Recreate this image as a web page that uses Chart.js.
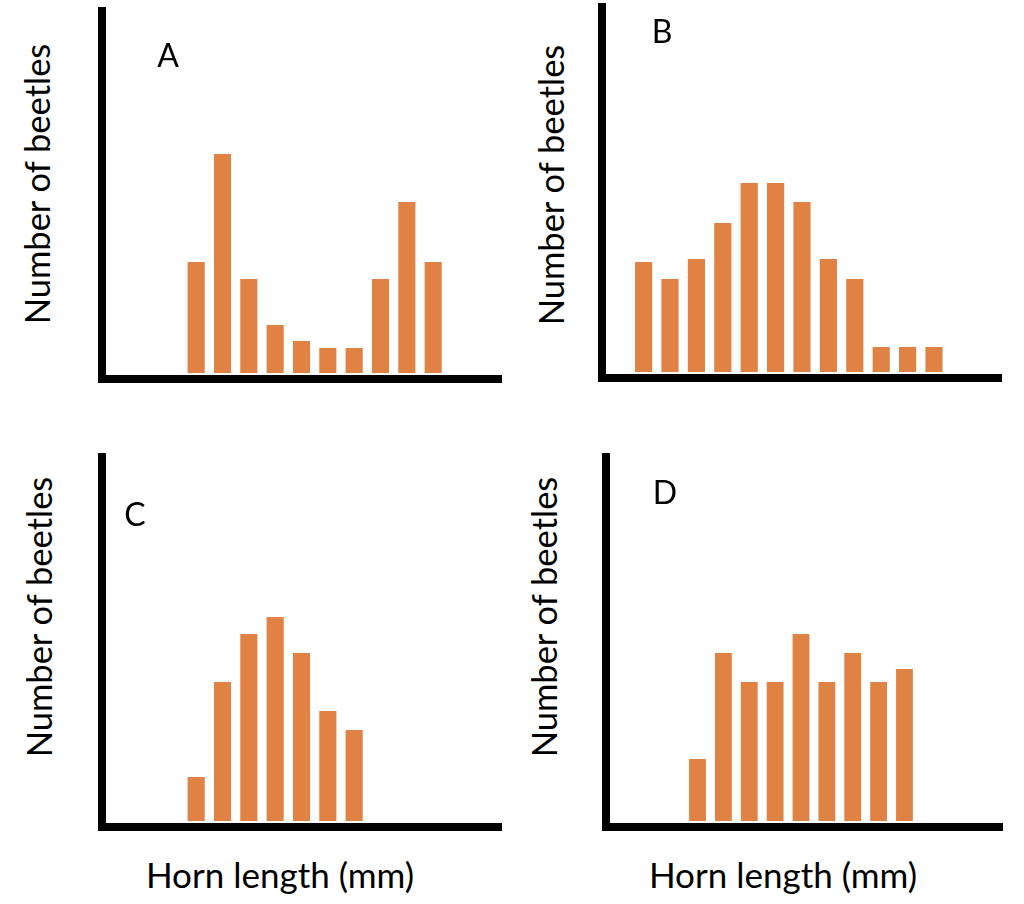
<!DOCTYPE html>
<html>
<head>
<meta charset="utf-8">
<script src="https://cdn.jsdelivr.net/npm/chart.js@4.4.1/dist/chart.umd.min.js"></script>
<style>
  html, body { margin: 0; padding: 0; background: #fff; }
  body { width: 1024px; height: 904px; position: relative; overflow: hidden;
         font-family: Lato, "Open Sans", "DejaVu Sans", sans-serif; color: #000; }
  canvas { position: absolute; }
  .lbl { position: absolute; white-space: nowrap; line-height: 1; }
  .ylab { font-size: 34.5px; transform: translate(-50%, -50%) rotate(-90deg); }
  .xlab { font-size: 35px; transform: translateX(-50%); }
  .pl { font-size: 32px; transform: translateX(-50%); }
</style>
</head>
<body>
<canvas id="cA" width="404" height="376" style="left:98px;top:7px"></canvas>
<canvas id="cB" width="404" height="379" style="left:598px;top:3px"></canvas>
<canvas id="cC" width="404" height="378" style="left:98px;top:453px"></canvas>
<canvas id="cD" width="401" height="378" style="left:602px;top:453px"></canvas>

<div class="lbl pl" style="left:168px;top:39px">A</div>
<div class="lbl pl" style="left:662px;top:15px">B</div>
<div class="lbl pl" style="left:135px;top:498px">C</div>
<div class="lbl pl" style="left:665px;top:476px">D</div>

<div class="lbl ylab" style="left:37px;top:184px">Number of beetles</div>
<div class="lbl ylab" style="left:551px;top:185px">Number of beetles</div>
<div class="lbl ylab" style="left:39px;top:617px">Number of beetles</div>
<div class="lbl ylab" style="left:544px;top:617px">Number of beetles</div>

<div class="lbl xlab" style="left:280px;top:857px">Horn length (mm)</div>
<div class="lbl xlab" style="left:783px;top:857px">Horn length (mm)</div>

<script>
// Horn-length bins (categories, unlabelled in the figure)
const hornBins = ['1','2','3','4','5','6','7','8','9','10','11','12','13','14','15'];

// Number of beetles per bin (relative units)
const beetlesA = [null, null, null, 11.1, 21.9, 9.4, 4.8, 3.2, 2.5, 2.5, 9.4, 17.1, 11.1, null, null];
const beetlesB = [null, 11.0, 9.3, 11.3, 14.9, 18.9, 18.9, 17.0, 11.3, 9.3, 2.5, 2.5, 2.5, null, null];
const beetlesC = [null, null, null, 4.4, 13.9, 18.7, 20.4, 16.8, 11.0, 9.1, null, null, null, null, null];
const beetlesD = [null, null, null, 6.2, 16.8, 13.9, 13.9, 18.7, 13.9, 16.8, 13.9, 15.2, null, null, null];

const BAR_COLOR = '#E08243';
const AXIS_W = 8;

const axesPlugin = {
  id: 'thickAxes',
  afterDraw(chart) {
    const ctx = chart.ctx;
    const w = chart.width, h = chart.height;
    ctx.save();
    ctx.fillStyle = '#000';
    ctx.fillRect(0, 0, AXIS_W, h);          // vertical axis
    ctx.fillRect(0, h - AXIS_W, w, AXIS_W); // horizontal axis
    ctx.restore();
  }
};

function makePanel(id, values, yMax, pad) {
  return new Chart(document.getElementById(id), {
    type: 'bar',
    data: {
      labels: hornBins,
      datasets: [{
        data: values,
        backgroundColor: BAR_COLOR,
        borderWidth: 0,
        categoryPercentage: 1.0,
        barPercentage: 0.65
      }]
    },
    options: {
      responsive: false,
      animation: false,
      layout: { padding: pad },
      plugins: { legend: { display: false }, tooltip: { enabled: false } },
      scales: {
        x: { display: false },
        y: { display: false, min: -0.2, max: yMax }
      }
    },
    plugins: [axesPlugin]
  });
}

makePanel('cA', beetlesA, 36.6, { left: 6, right: 3, top: 0, bottom: AXIS_W });
makePanel('cB', beetlesB, 36.9, { left: 6, right: 2, top: 0, bottom: AXIS_W });
makePanel('cC', beetlesC, 36.8, { left: 6, right: 3, top: 0, bottom: AXIS_W });
makePanel('cD', beetlesD, 36.8, { left: 5, right: 8, top: 0, bottom: AXIS_W });
</script>
</body>
</html>
